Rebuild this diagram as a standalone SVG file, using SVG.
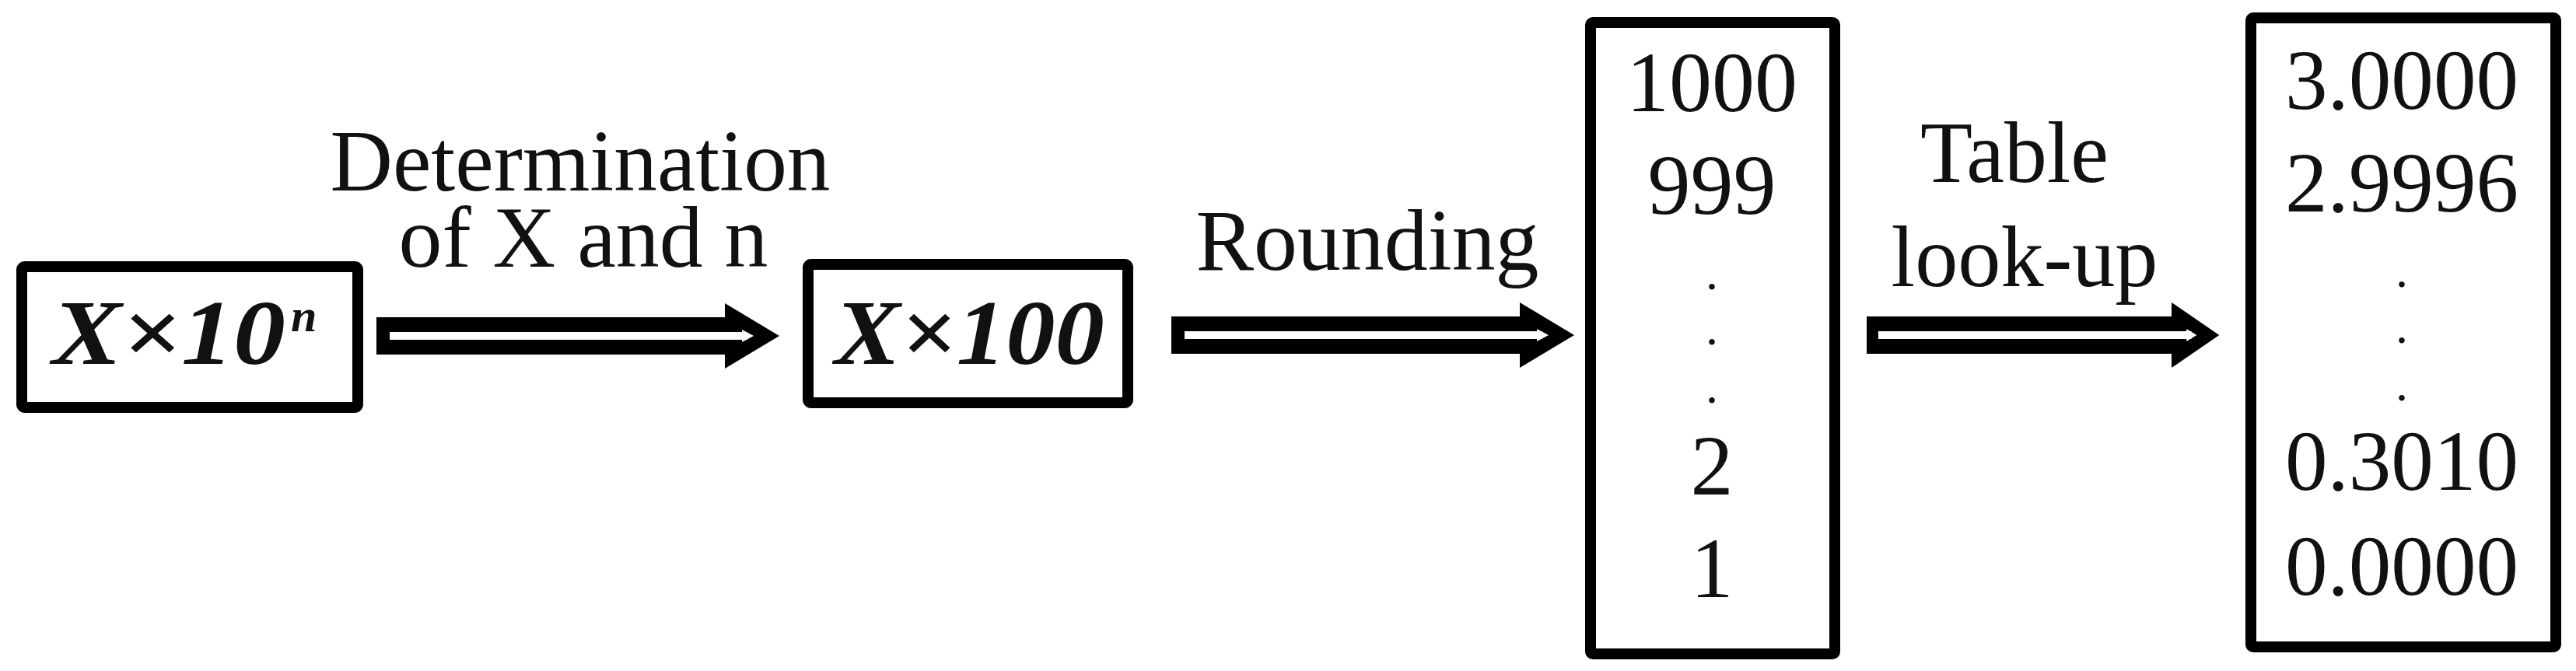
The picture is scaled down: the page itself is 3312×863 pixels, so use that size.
<svg xmlns="http://www.w3.org/2000/svg" width="3312" height="863" viewBox="0 0 3312 863">
<style>
.box{fill:#fff;stroke:#000;stroke-width:14}
.t{font-family:"Liberation Serif",serif;fill:#111}
.num{font-size:110px;text-anchor:middle}
.dot{font-size:64px;text-anchor:middle}
.lbl{font-size:113px;text-anchor:middle}
.bi{font-weight:bold;font-style:italic;font-size:118px}
.shaft{fill:#000}
.inner{stroke:#fff;stroke-width:10;fill:none}
</style>
<defs>
<g id="arr">
<path d="M0,-24 H448 V-42 L518,0 L448,42 V24 H0 Z" class="shaft"/>
<path d="M17,0 H477" class="inner"/>
<path d="M470,-8 L485,0 L470,8 Z" fill="#fff"/>
</g>
</defs>
<g id="connectors">
<use href="#arr" transform="translate(484,432)"/>
<use href="#arr" transform="translate(1506,431)"/>
<use href="#arr" transform="translate(2400,431) scale(0.875,1)"/>
</g>
<g id="n1">
<rect class="box" x="28" y="343" width="432" height="181" rx="4"/>
<text class="t bi" x="67" y="468" textLength="300" lengthAdjust="spacingAndGlyphs">X×10</text>
<text class="t" x="374" y="426" font-size="60" font-weight="bold" font-style="italic">n</text>
</g>
<g id="n2">
<rect class="box" x="1039" y="340" width="411" height="178" rx="4"/>
<text class="t bi" x="1073" y="468" textLength="347" lengthAdjust="spacingAndGlyphs">X×100</text>
</g>
<g id="n3">
<rect class="box" x="2045" y="29" width="314" height="812" rx="3"/>
<text class="t num" x="2201" y="143">1000</text>
<text class="t num" x="2201" y="275">999</text>
<text class="t dot" x="2201" y="372">.</text>
<text class="t dot" x="2201" y="443">.</text>
<text class="t dot" x="2201" y="518">.</text>
<text class="t num" x="2201" y="636">2</text>
<text class="t num" x="2201" y="768">1</text>
</g>
<g id="n4">
<rect class="box" x="2894" y="23" width="392" height="809" rx="3"/>
<text class="t num" x="3088" y="140" textLength="300" lengthAdjust="spacingAndGlyphs">3.0000</text>
<text class="t num" x="3088" y="272" textLength="300" lengthAdjust="spacingAndGlyphs">2.9996</text>
<text class="t dot" x="3088" y="369">.</text>
<text class="t dot" x="3088" y="441">.</text>
<text class="t dot" x="3088" y="515">.</text>
<text class="t num" x="3088" y="630" textLength="300" lengthAdjust="spacingAndGlyphs">0.3010</text>
<text class="t num" x="3088" y="765" textLength="300" lengthAdjust="spacingAndGlyphs">0.0000</text>
</g>
<g id="labels">
<text class="t lbl" x="746" y="245" textLength="643" lengthAdjust="spacingAndGlyphs">Determination</text>
<text class="t lbl" x="750" y="343" textLength="475" lengthAdjust="spacingAndGlyphs">of X and n</text>
<text class="t lbl" x="1758" y="347" textLength="441" lengthAdjust="spacingAndGlyphs">Rounding</text>
<text class="t lbl" x="2590" y="234" textLength="242" lengthAdjust="spacingAndGlyphs">Table</text>
<text class="t lbl" x="2603" y="368" textLength="343" lengthAdjust="spacingAndGlyphs">look-up</text>
</g>
</svg>
